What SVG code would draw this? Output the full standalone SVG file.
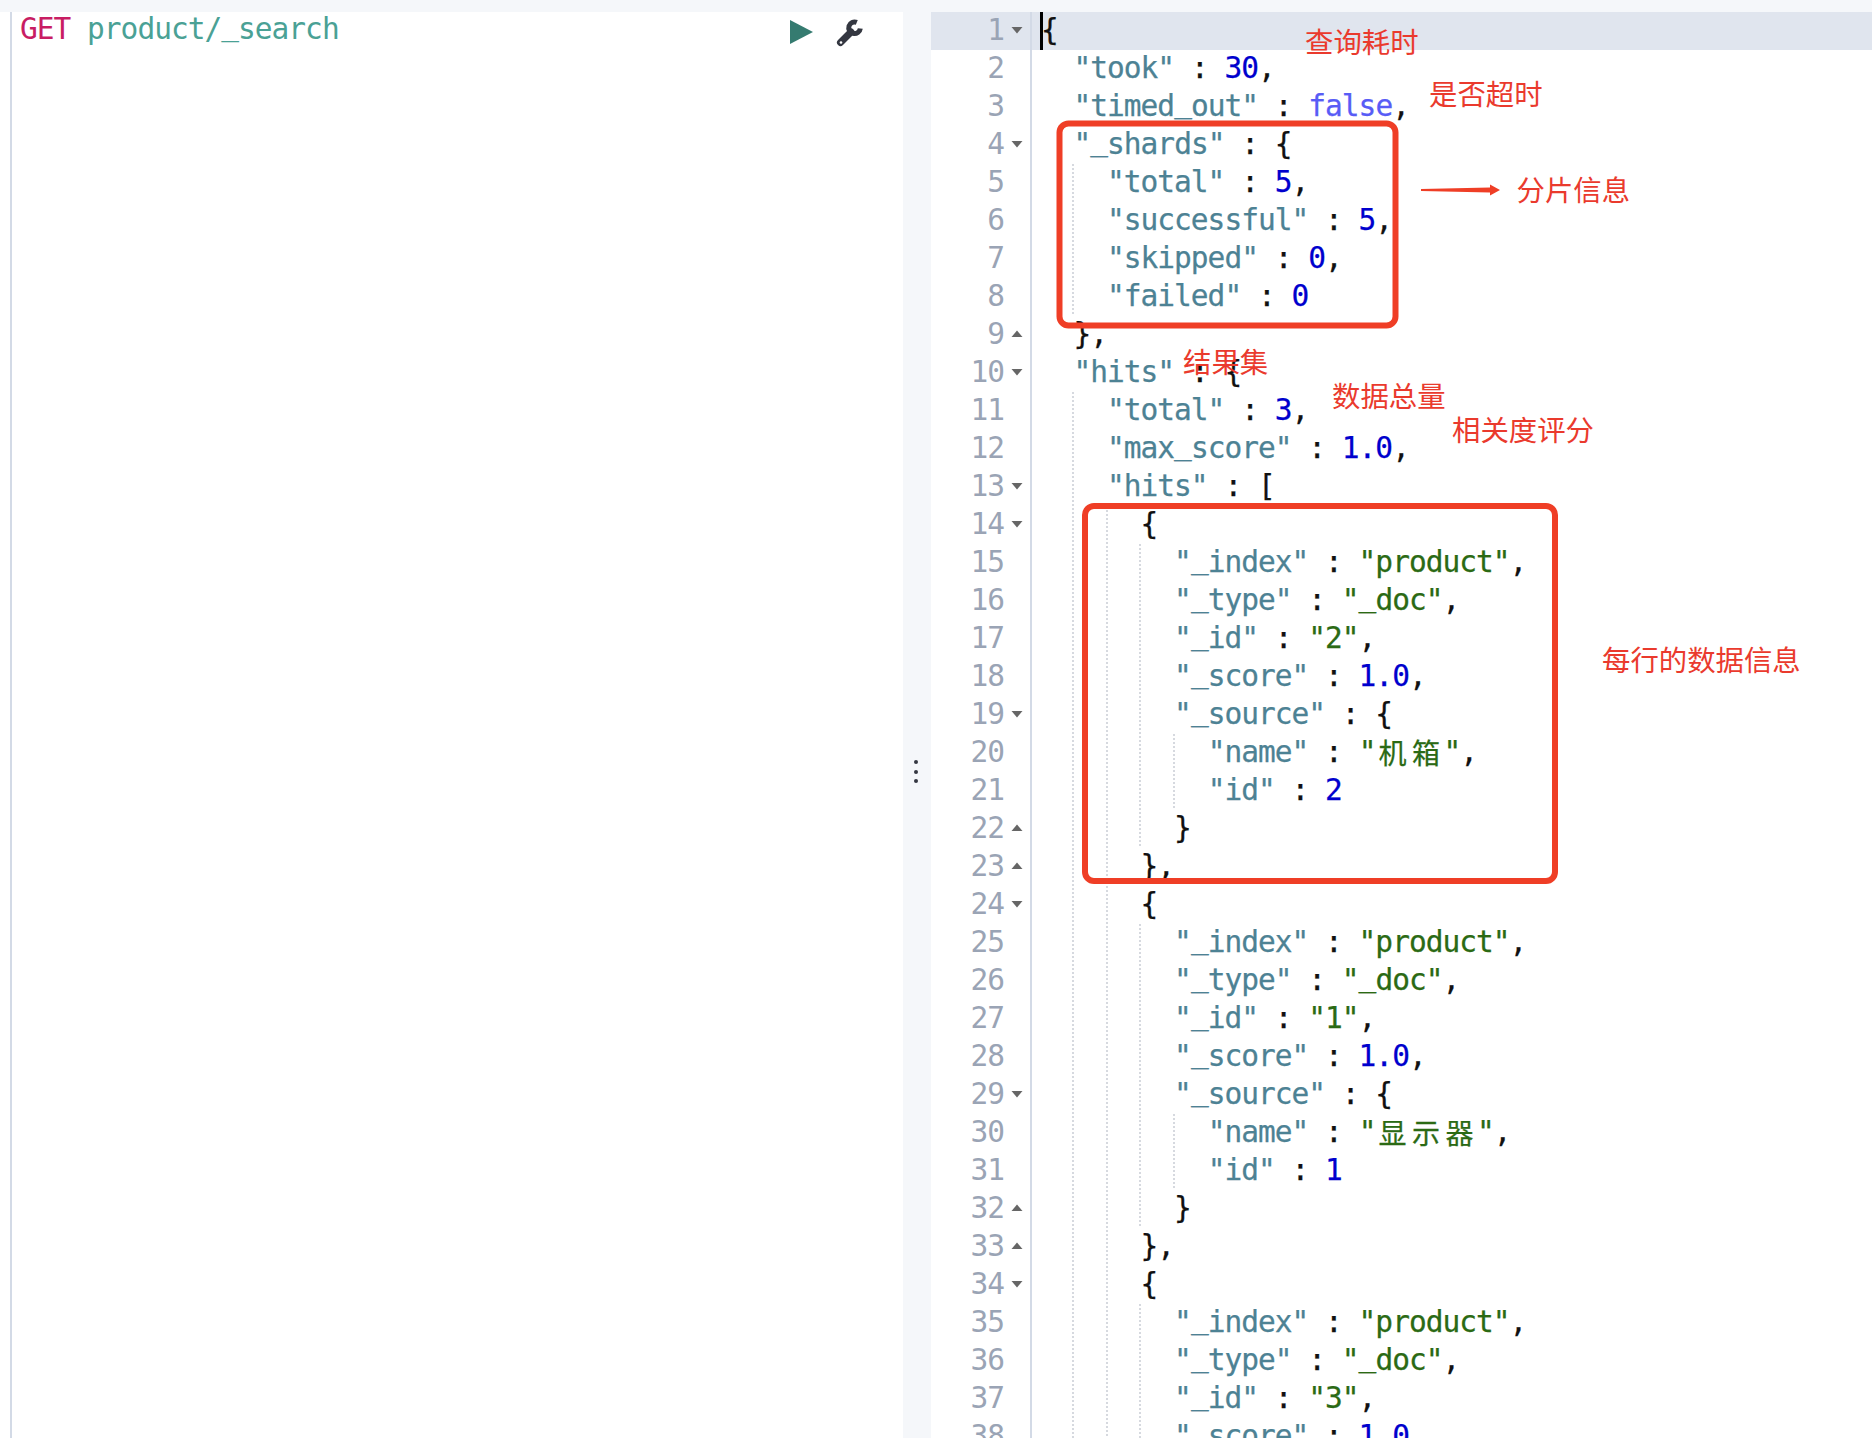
<svg xmlns="http://www.w3.org/2000/svg" width="1872" height="1438" viewBox="0 0 1872 1438">
<style>
text{font-family:"DejaVu Sans Mono","Liberation Mono",monospace;font-size:29.5px;letter-spacing:-0.99px;white-space:pre}
.k{fill:#4d8294;stroke:#4d8294;stroke-width:.25}.n{fill:#0000cd;stroke:#0000cd;stroke-width:.25}.b{fill:#585cf6;stroke:#585cf6;stroke-width:.25}.s{fill:#2b6a14;stroke:#2b6a14;stroke-width:.25}.p{fill:#111;stroke:#111;stroke-width:.25}
.ln{fill:#9aa4b5;text-anchor:end}
.g{stroke:#d6d9df;stroke-width:2;stroke-dasharray:2 2;fill:none}
.a{font-family:"Noto Sans CJK SC",sans-serif;font-size:28.4px;letter-spacing:0;fill:#ea3a2d;stroke:none}
.c{font-family:"Noto Sans CJK SC",sans-serif;font-size:28px;letter-spacing:0}
.box{fill:none;stroke:#ef3e26;stroke-width:6}
.fd{fill:#666}
</style>
<defs>
<polygon id="dn" class="fd" points="-5.500,-3 5.500,-3 0,3.500"/>
<polygon id="up" class="fd" points="-5.500,3 5.500,3 0,-3.500"/>
</defs>
<rect width="1872" height="1438" fill="#fff"/>
<g id="chrome">
<rect x="0" y="0" width="1872" height="12" fill="#f5f7fa"/>
<rect x="903" y="0" width="28" height="1438" fill="#f5f7fa"/>
<rect x="10" y="12" width="2" height="1426" fill="#d3dae6"/>
<rect x="931" y="12" width="941" height="38" fill="#e0e5ee"/>
<rect x="1030" y="12" width="2" height="1426" fill="#d3dae6"/>
<rect x="1040" y="12" width="3" height="38" fill="#000"/>
<circle cx="916" cy="762" r="2" fill="#343741"/><circle cx="916" cy="772" r="2" fill="#343741"/><circle cx="916" cy="781" r="2" fill="#343741"/>
</g>
<g id="request">
<text x="20" y="39"><tspan fill="#c81d63">GET</tspan><tspan fill="#4aa195"> product/<tspan dy="-4">_</tspan><tspan dy="4">search</tspan></tspan></text>
<polygon id="play" points="790,20 813,32 790,44" fill="#357b70"/>
<g id="wrench">
<path d="M840.500 42.500 L851 32" stroke="#343741" stroke-width="7" stroke-linecap="round" fill="none"/>
<path d="M856.800 22.400 A5.800 5.800 0 1 0 860.300 28.500" stroke="#343741" stroke-width="5" fill="none"/>
<circle cx="841" cy="42.500" r="1.300" fill="#fff"/>
</g>
</g>
<g id="guides">
<path class="g" d="M1073 164V316M1073 392V1438M1107 506V1438M1140 544V848M1140 924V1228M1140 1304V1438M1174 734V810M1174 1114V1190"/>
</g>
<g id="line-numbers">
<text class="ln" x="1004" y="40">1</text><text class="ln" x="1004" y="78">2</text><text class="ln" x="1004" y="116">3</text><text class="ln" x="1004" y="154">4</text><text class="ln" x="1004" y="192">5</text><text class="ln" x="1004" y="230">6</text><text class="ln" x="1004" y="268">7</text><text class="ln" x="1004" y="306">8</text><text class="ln" x="1004" y="344">9</text><text class="ln" x="1004" y="382">10</text>
<text class="ln" x="1004" y="420">11</text><text class="ln" x="1004" y="458">12</text><text class="ln" x="1004" y="496">13</text><text class="ln" x="1004" y="534">14</text><text class="ln" x="1004" y="572">15</text><text class="ln" x="1004" y="610">16</text><text class="ln" x="1004" y="648">17</text><text class="ln" x="1004" y="686">18</text><text class="ln" x="1004" y="724">19</text><text class="ln" x="1004" y="762">20</text>
<text class="ln" x="1004" y="800">21</text><text class="ln" x="1004" y="838">22</text><text class="ln" x="1004" y="876">23</text><text class="ln" x="1004" y="914">24</text><text class="ln" x="1004" y="952">25</text><text class="ln" x="1004" y="990">26</text><text class="ln" x="1004" y="1028">27</text><text class="ln" x="1004" y="1066">28</text><text class="ln" x="1004" y="1104">29</text><text class="ln" x="1004" y="1142">30</text>
<text class="ln" x="1004" y="1180">31</text><text class="ln" x="1004" y="1218">32</text><text class="ln" x="1004" y="1256">33</text><text class="ln" x="1004" y="1294">34</text><text class="ln" x="1004" y="1332">35</text><text class="ln" x="1004" y="1370">36</text><text class="ln" x="1004" y="1408">37</text><text class="ln" x="1004" y="1446">38</text>
</g>
<g id="fold-marks">
<use href="#dn" x="1017" y="30"/><use href="#dn" x="1017" y="144"/><use href="#up" x="1017" y="334"/><use href="#dn" x="1017" y="372"/><use href="#dn" x="1017" y="486"/><use href="#dn" x="1017" y="524"/><use href="#dn" x="1017" y="714"/><use href="#up" x="1017" y="828"/><use href="#up" x="1017" y="866"/><use href="#dn" x="1017" y="904"/><use href="#dn" x="1017" y="1094"/><use href="#up" x="1017" y="1208"/><use href="#up" x="1017" y="1246"/><use href="#dn" x="1017" y="1284"/>
</g>
<g id="code" transform="translate(-1 0)">
<text x="1042" y="40" class="p">{</text>
<text x="1074.500" y="78"><tspan class="k">"took"</tspan><tspan class="p"> : </tspan><tspan class="n">30</tspan><tspan class="p">,</tspan></text>
<text x="1074.500" y="116"><tspan class="k">"timed<tspan dy="-4">_</tspan><tspan dy="4">out"</tspan></tspan><tspan class="p"> : </tspan><tspan class="b">false</tspan><tspan class="p">,</tspan></text>
<text x="1074.500" y="154"><tspan class="k">"<tspan dy="-4">_</tspan><tspan dy="4">shards"</tspan></tspan><tspan class="p"> : {</tspan></text>
<text x="1108" y="192"><tspan class="k">"total"</tspan><tspan class="p"> : </tspan><tspan class="n">5</tspan><tspan class="p">,</tspan></text>
<text x="1108" y="230"><tspan class="k">"successful"</tspan><tspan class="p"> : </tspan><tspan class="n">5</tspan><tspan class="p">,</tspan></text>
<text x="1108" y="268"><tspan class="k">"skipped"</tspan><tspan class="p"> : </tspan><tspan class="n">0</tspan><tspan class="p">,</tspan></text>
<text x="1108" y="306"><tspan class="k">"failed"</tspan><tspan class="p"> : </tspan><tspan class="n">0</tspan></text>
<text x="1074.500" y="344" class="p">},</text>
<text x="1074.500" y="382"><tspan class="k">"hits"</tspan><tspan class="p"> : {</tspan></text>
<text x="1108" y="420"><tspan class="k">"total"</tspan><tspan class="p"> : </tspan><tspan class="n">3</tspan><tspan class="p">,</tspan></text>
<text x="1108" y="458"><tspan class="k">"max<tspan dy="-4">_</tspan><tspan dy="4">score"</tspan></tspan><tspan class="p"> : </tspan><tspan class="n">1.0</tspan><tspan class="p">,</tspan></text>
<text x="1108" y="496"><tspan class="k">"hits"</tspan><tspan class="p"> : [</tspan></text>
<text x="1141.600" y="534" class="p">{</text>
<text x="1175.100" y="572"><tspan class="k">"<tspan dy="-4">_</tspan><tspan dy="4">index"</tspan></tspan><tspan class="p"> : </tspan><tspan class="s">"product"</tspan><tspan class="p">,</tspan></text>
<text x="1175.100" y="610"><tspan class="k">"<tspan dy="-4">_</tspan><tspan dy="4">type"</tspan></tspan><tspan class="p"> : </tspan><tspan class="s">"<tspan dy="-4">_</tspan><tspan dy="4">doc"</tspan></tspan><tspan class="p">,</tspan></text>
<text x="1175.100" y="648"><tspan class="k">"<tspan dy="-4">_</tspan><tspan dy="4">id"</tspan></tspan><tspan class="p"> : </tspan><tspan class="s">"2"</tspan><tspan class="p">,</tspan></text>
<text x="1175.100" y="686"><tspan class="k">"<tspan dy="-4">_</tspan><tspan dy="4">score"</tspan></tspan><tspan class="p"> : </tspan><tspan class="n">1.0</tspan><tspan class="p">,</tspan></text>
<text x="1175.100" y="724"><tspan class="k">"<tspan dy="-4">_</tspan><tspan dy="4">source"</tspan></tspan><tspan class="p"> : {</tspan></text>
<text x="1208.700" y="762"><tspan class="k">"name"</tspan><tspan class="p"> : </tspan><tspan class="s">"</tspan><tspan class="s c" x="1379.400" dy="2">机</tspan><tspan class="s c" x="1413">箱</tspan><tspan class="s" x="1444.500" dy="-2">"</tspan><tspan class="p">,</tspan></text>
<text x="1208.700" y="800"><tspan class="k">"id"</tspan><tspan class="p"> : </tspan><tspan class="n">2</tspan></text>
<text x="1175.100" y="838" class="p">}</text>
<text x="1141.600" y="876" class="p">},</text>
<text x="1141.600" y="914" class="p">{</text>
<text x="1175.100" y="952"><tspan class="k">"<tspan dy="-4">_</tspan><tspan dy="4">index"</tspan></tspan><tspan class="p"> : </tspan><tspan class="s">"product"</tspan><tspan class="p">,</tspan></text>
<text x="1175.100" y="990"><tspan class="k">"<tspan dy="-4">_</tspan><tspan dy="4">type"</tspan></tspan><tspan class="p"> : </tspan><tspan class="s">"<tspan dy="-4">_</tspan><tspan dy="4">doc"</tspan></tspan><tspan class="p">,</tspan></text>
<text x="1175.100" y="1028"><tspan class="k">"<tspan dy="-4">_</tspan><tspan dy="4">id"</tspan></tspan><tspan class="p"> : </tspan><tspan class="s">"1"</tspan><tspan class="p">,</tspan></text>
<text x="1175.100" y="1066"><tspan class="k">"<tspan dy="-4">_</tspan><tspan dy="4">score"</tspan></tspan><tspan class="p"> : </tspan><tspan class="n">1.0</tspan><tspan class="p">,</tspan></text>
<text x="1175.100" y="1104"><tspan class="k">"<tspan dy="-4">_</tspan><tspan dy="4">source"</tspan></tspan><tspan class="p"> : {</tspan></text>
<text x="1208.700" y="1142"><tspan class="k">"name"</tspan><tspan class="p"> : </tspan><tspan class="s">"</tspan><tspan class="s c" x="1379.400" dy="2">显</tspan><tspan class="s c" x="1413">示</tspan><tspan class="s c" x="1446.500">器</tspan><tspan class="s" x="1478" dy="-2">"</tspan><tspan class="p">,</tspan></text>
<text x="1208.700" y="1180"><tspan class="k">"id"</tspan><tspan class="p"> : </tspan><tspan class="n">1</tspan></text>
<text x="1175.100" y="1218" class="p">}</text>
<text x="1141.600" y="1256" class="p">},</text>
<text x="1141.600" y="1294" class="p">{</text>
<text x="1175.100" y="1332"><tspan class="k">"<tspan dy="-4">_</tspan><tspan dy="4">index"</tspan></tspan><tspan class="p"> : </tspan><tspan class="s">"product"</tspan><tspan class="p">,</tspan></text>
<text x="1175.100" y="1370"><tspan class="k">"<tspan dy="-4">_</tspan><tspan dy="4">type"</tspan></tspan><tspan class="p"> : </tspan><tspan class="s">"<tspan dy="-4">_</tspan><tspan dy="4">doc"</tspan></tspan><tspan class="p">,</tspan></text>
<text x="1175.100" y="1408"><tspan class="k">"<tspan dy="-4">_</tspan><tspan dy="4">id"</tspan></tspan><tspan class="p"> : </tspan><tspan class="s">"3"</tspan><tspan class="p">,</tspan></text>
<text x="1175.100" y="1446"><tspan class="k">"<tspan dy="-4">_</tspan><tspan dy="4">score"</tspan></tspan><tspan class="p"> : </tspan><tspan class="n">1.0</tspan></text>
</g>
<g id="annotations">
<rect id="box-shards" class="box" x="1059.500" y="123.500" width="336" height="202" rx="9"/>
<rect id="box-hit" class="box" x="1085" y="506" width="470" height="375" rx="9"/>
<polygon id="arrow" fill="#ef3e26" points="1421,189 1490,187.500 1490,184.500 1500,190 1490,195.500 1490,192.500 1421,191"/>
<text class="a" x="1305" y="52.500">查询耗时</text>
<text class="a" x="1429" y="105">是否超时</text>
<text class="a" x="1516.500" y="200.500">分片信息</text>
<text class="a" x="1183" y="373">结果集</text>
<text class="a" x="1332" y="406.500">数据总量</text>
<text class="a" x="1452" y="441">相关度评分</text>
<text class="a" x="1602" y="671">每行的数据信息</text>
</g>
</svg>
